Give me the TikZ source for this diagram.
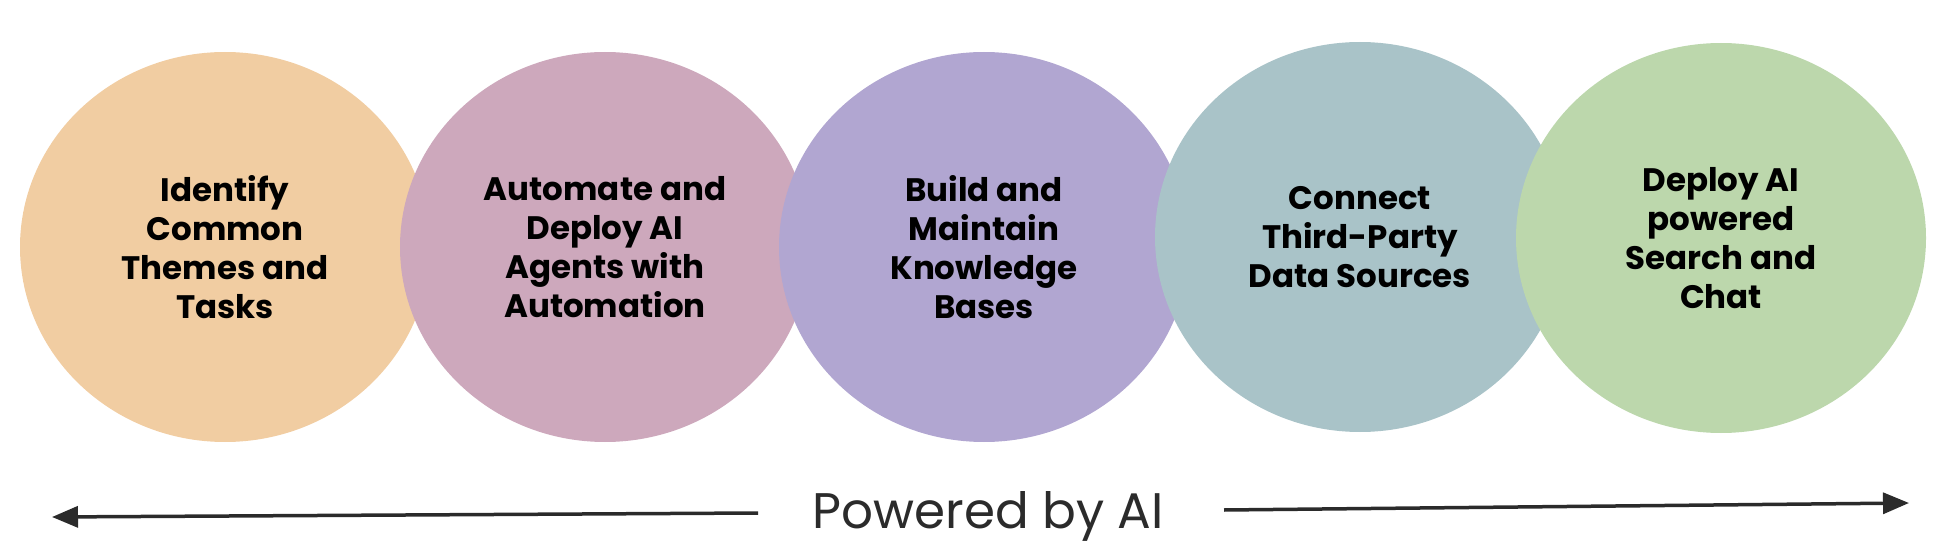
\documentclass[tikz,border=0pt]{standalone}
\usepackage{fontspec}
\usetikzlibrary{arrows.meta}
\newfontfamily\popsb{Poppins}
\newfontfamily\popreg{Poppins}
\definecolor{cOrange}{HTML}{F1CDA2}
\definecolor{cPink}{HTML}{CDA8BC}
\definecolor{cPurple}{HTML}{B1A6D1}
\definecolor{cTeal}{HTML}{A9C3C8}
\definecolor{cGreen}{HTML}{BCD7AC}
\definecolor{cInk}{HTML}{2B2B2B}
\tikzset{
  bubble/.style={ellipse, minimum width=410pt, minimum height=390pt, inner sep=0pt, draw=none},
  bubbletext/.style={align=center, text=black, font=\popsb\bfseries\fontsize{32.5}{39}\selectfont},
  flow/.style={draw=cInk, line width=3.5pt, -{Triangle[length=26pt,width=21pt]}}
}
\usetikzlibrary{shapes.geometric}
\begin{document}
\begin{tikzpicture}[x=1pt,y=-1pt]
\useasboundingbox (0,0) rectangle (1936,556);
\node[bubble, fill=cOrange] (e1) at (225,247) {};
\node[bubble, fill=cPink]   (e2) at (605,247) {};
\node[bubble, fill=cPurple] (e3) at (984,247) {};
\node[bubble, fill=cTeal]   (e4) at (1360,237) {};
\node[bubble, fill=cGreen]  (e5) at (1721,238) {};
\node[bubbletext] (t1) at (225,247) {Identify\\Common\\Themes and\\Tasks};
\node[bubbletext] (t2) at (605,247) {Automate and\\Deploy AI\\Agents with\\Automation};
\node[bubbletext] (t3) at (984,247) {Build and\\Maintain\\Knowledge\\Bases};
\node[bubbletext] (t4) at (1360,237) {Connect\\Third-Party\\Data Sources};
\node[bubbletext] (t5) at (1721,238) {Deploy AI\\powered\\Search and\\Chat};
\node[text=cInk, font=\popreg\fontsize{50}{60}\selectfont, anchor=base] (lbl) at (988,528) {Powered by AI};
\coordinate (lstart) at (758,513);
\coordinate (lend) at (52,517);
\coordinate (rstart) at (1224,510);
\coordinate (rend) at (1909,503);
\draw[flow] (lstart) -- (lend);
\draw[flow] (rstart) -- (rend);
\end{tikzpicture}
\end{document}
